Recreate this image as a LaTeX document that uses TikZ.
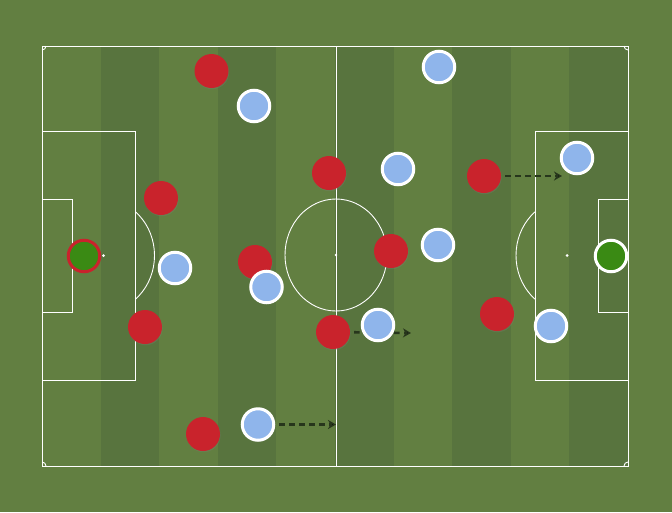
\documentclass[tikz,border=0pt]{standalone}
\usetikzlibrary{shadows,arrows.meta}
\definecolor{grass}{HTML}{627F41}
\definecolor{stripe}{HTML}{58743E}
\definecolor{homered}{HTML}{C9232C}
\definecolor{awayblue}{HTML}{8FB5EB}
\definecolor{keeper}{HTML}{3A8A14}
\definecolor{runline}{HTML}{27361C}

\begin{document}
\begin{tikzpicture}[x=1pt,y=-1pt]
% STYLES
\tikzset{%
    pitchline/.style={draw=white,line width=0.9pt},
    player/.style={%
        circle,inner sep=0pt,
        drop shadow={shadow xshift=0.6pt,shadow yshift=-1.2pt,opacity=0.25}
    },
    home/.style={player,fill=homered,minimum size=34pt},
    away/.style={player,fill=awayblue,draw=white,line width=3pt,minimum size=31.5pt},
    homekeeper/.style={player,fill=keeper,draw=homered,line width=3pt,minimum size=31.5pt},
    awaykeeper/.style={player,fill=keeper,draw=white,line width=3pt,minimum size=31.5pt},
    run/.style={->,>={Stealth[length=8pt,width=9pt,inset=2.5pt]},draw=runline,
        line width=2.6pt,dash pattern=on 5.5pt off 4.5pt}
}
% Draw grass and stripes
\fill[grass] (0,0) rectangle (672,512);
\foreach \i in {1,3,5,7,9}
    \fill[stripe] (42+58.6*\i,46) rectangle (42+58.6*\i+58.6,466);
% Draw pitch markings
\draw[pitchline] (42,46) rectangle (628,466);
\draw[pitchline] (336,46) -- (336,466);
\draw[pitchline] (336,255) ellipse [x radius=51pt,y radius=56pt];
\draw[pitchline] (42,131) rectangle (135,380);
\draw[pitchline] (42,199) rectangle (72.5,312);
\draw[pitchline] (628,131) rectangle (535.5,380);
\draw[pitchline] (628,199) rectangle (598,312);
\begin{scope}
    \clip (135,46) rectangle (336,466);
    \draw[pitchline] (103.5,255.5) ellipse [x radius=51pt,y radius=56pt];
\end{scope}
\begin{scope}
    \clip (336,46) rectangle (535.5,466);
    \draw[pitchline] (567,255.5) ellipse [x radius=51pt,y radius=56pt];
\end{scope}
\fill[white] (336,255) circle (1.3pt) (103.5,255.5) circle (1.5pt) (567,255.5) circle (1.5pt);
\draw[pitchline] (46,46) arc[start angle=0,end angle=-90,radius=4pt];
\draw[pitchline] (624,46) arc[start angle=180,end angle=270,radius=4pt];
\draw[pitchline] (46,466) arc[start angle=0,end angle=90,radius=4pt];
\draw[pitchline] (624,466) arc[start angle=180,end angle=90,radius=4pt];
% Draw runs (behind players)
\coordinate (runright) at (562,176);
\coordinate (runmid) at (411,333);
\coordinate (runleft) at (336,424.5);
% Draw red team
\node [homekeeper] (redgk) at (84,256) {};
\node [home] (redlb) at (161,198) {};
\node [home] (redrb) at (145,327) {};
\node [home] (redlw) at (211.5,71) {};
\node [home] (redrw) at (203,434) {};
\node [home] (redcm) at (255,262) {};
\node [home] (redlm) at (329,173) {};
\node [home] (redrm) at (333,332) {};
\node [home] (redam) at (391,251) {};
\node [home] (redlf) at (484,176) {};
\node [home] (redrf) at (497,314) {};
% Draw the runs
\path[run] (redlf) edge[shorten <=4pt] (runright);
\path[run] (redrm) edge[shorten <=4pt] (runmid);
% Draw blue team
\node [awaykeeper] (bluegk) at (611,256) {};
\node [away] (bluerb) at (577,158) {};
\node [away] (bluelb) at (551,326) {};
\node [away] (bluerw) at (439,67) {};
\node [away] (bluecm) at (398,169) {};
\node [away] (bluedm) at (438,245) {};
\node [away] (bluelm) at (378,325) {};
\node [away] (bluerm) at (254,106) {};
\node [away] (bluecf) at (266.5,287) {};
\node [away] (bluest) at (175,268) {};
\node [away] (bluelw) at (258,424.5) {};
\path[run] (bluelw) edge[shorten <=4pt] (runleft);
\end{tikzpicture}
\end{document}
